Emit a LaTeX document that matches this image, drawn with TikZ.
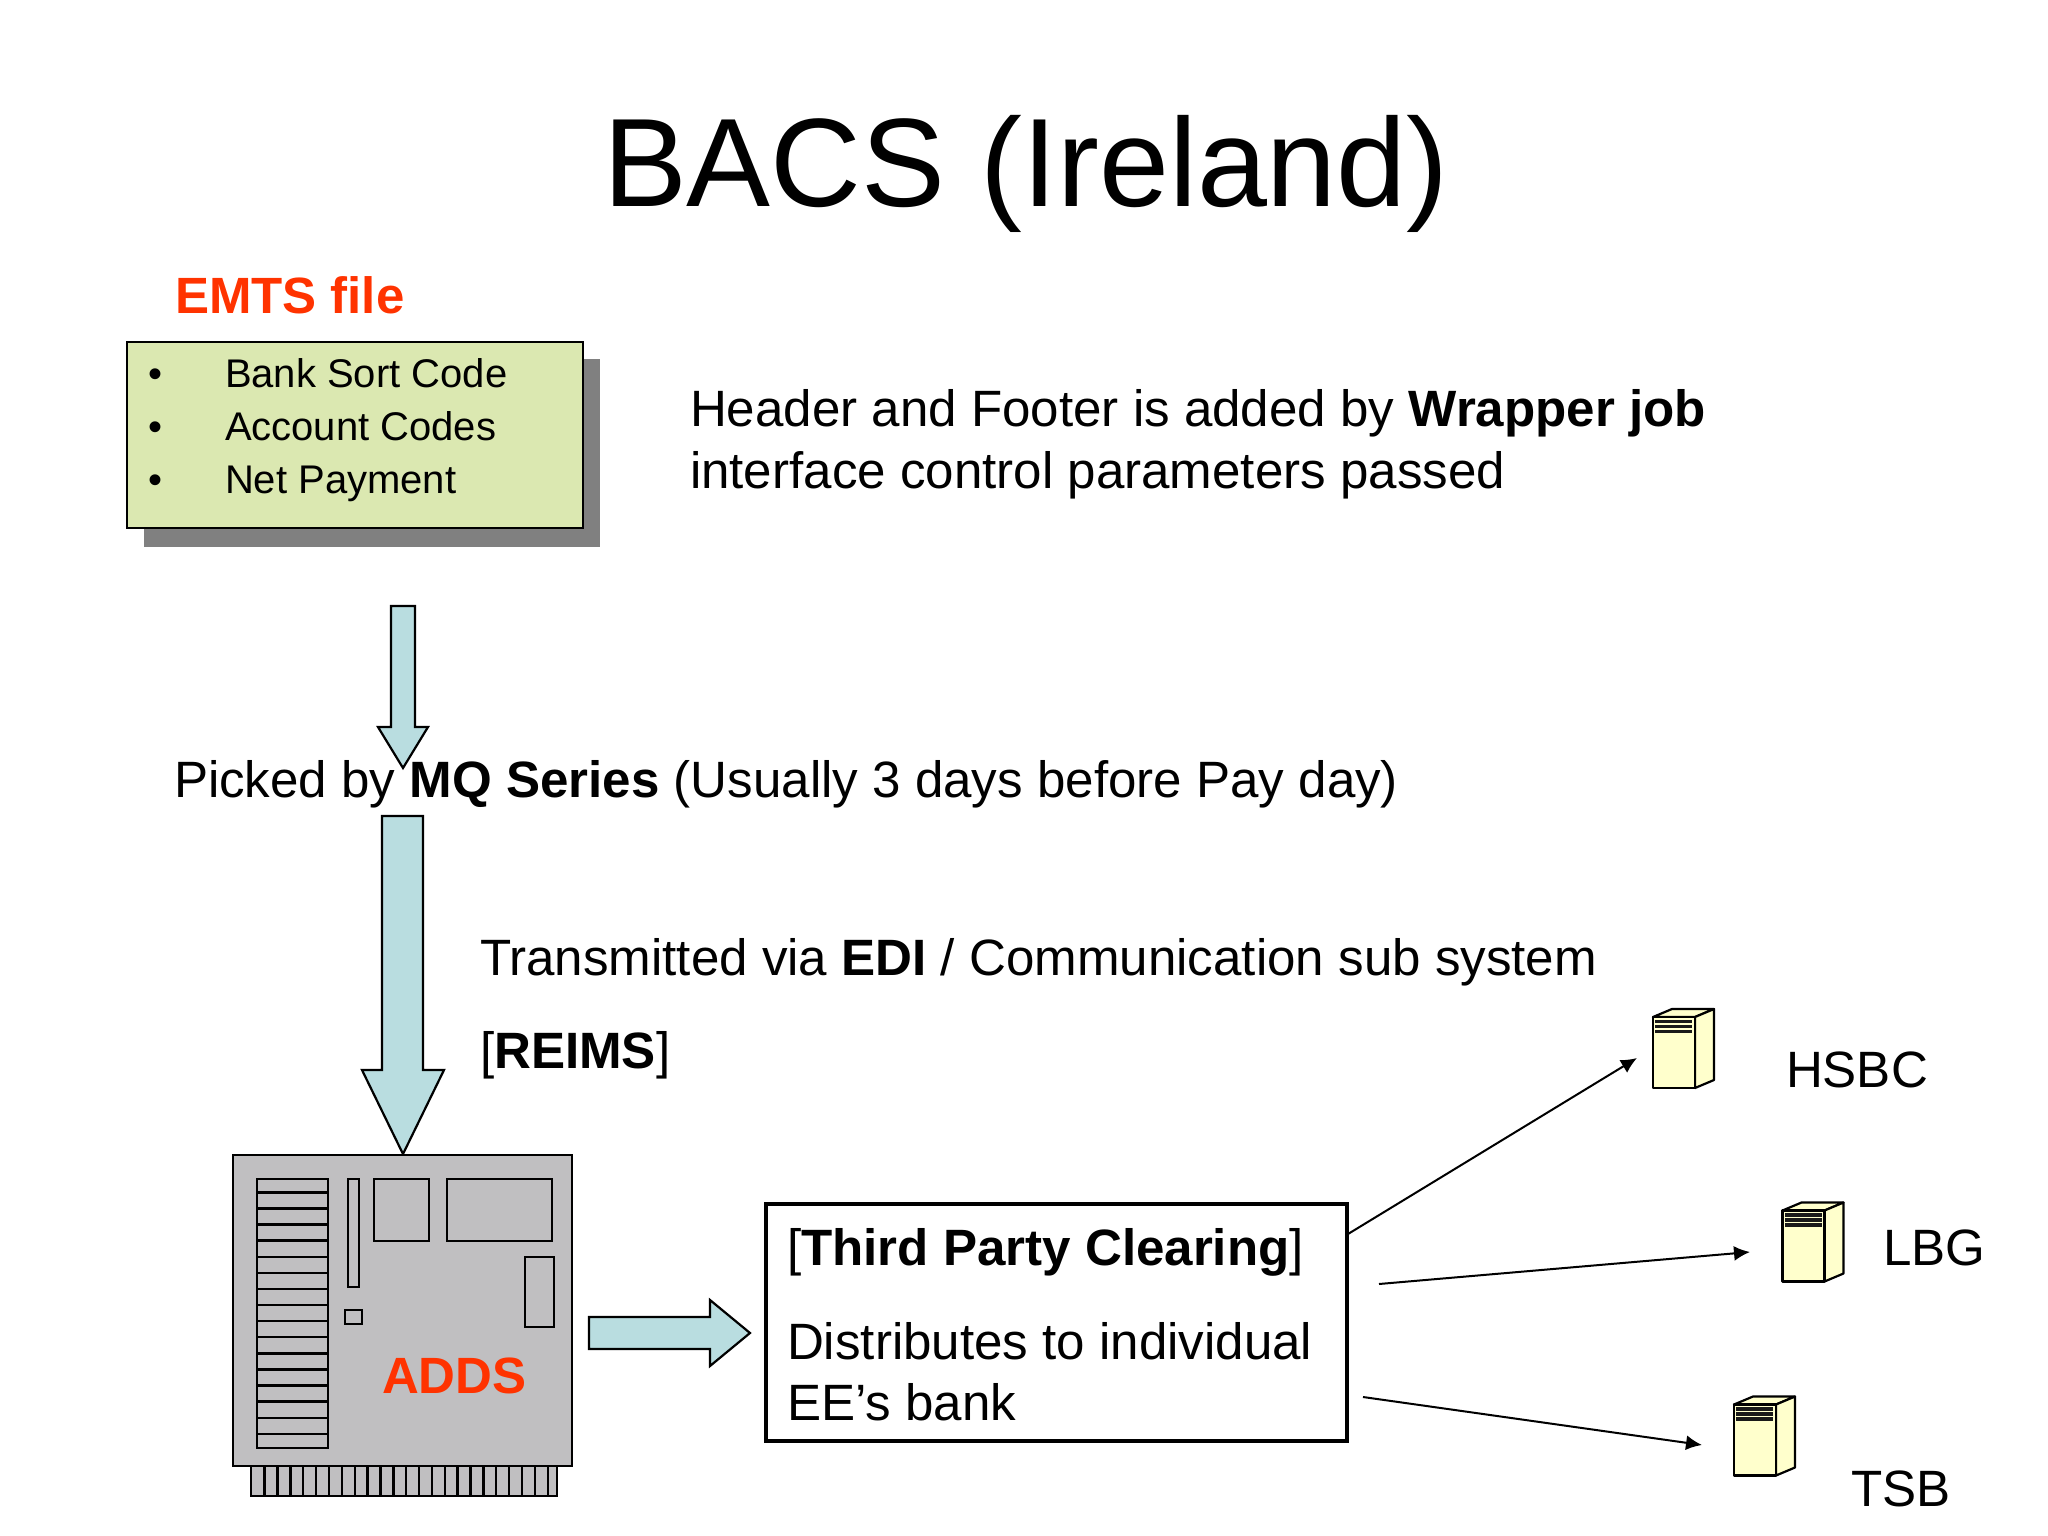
\documentclass[tikz,border=0pt]{standalone}
\usepackage{fontspec}
\setmainfont{Liberation Sans}
\definecolor{emts}{HTML}{FF3300}
\definecolor{notegreen}{HTML}{DBE8B1}
\definecolor{shadowgrey}{HTML}{808080}
\definecolor{arrowblue}{HTML}{B9DDE0}
\definecolor{boardgrey}{HTML}{C0BFC1}
\definecolor{serveryellow}{HTML}{FFFFCC}
\newcommand{\sz}[1]{\fontsize{#1}{#1}\selectfont}
\tikzset{
  txt/.style={anchor=base west,inner sep=0pt,outer sep=0pt,text=black,font=\sz{51.1}},
  listtxt/.style={txt,font=\sz{40}},
  redtxt/.style={txt,text=emts,font=\sz{51}\bfseries},
  block/.style={draw=black,line width=2.2pt,fill=arrowblue,line join=miter},
  part/.style={draw=black,line width=2.4pt},
  conn/.style={draw=black,line width=2pt,-{Latex[length=16pt,width=15pt]},shorten >=0pt},
  srv/.style={draw=black,line width=2.2pt,fill=serveryellow,line join=round},
  srvslot/.style={fill=black!90,draw=none},
  boxnode/.style={anchor=north west,inner sep=0pt,outer sep=0pt}
}
\usetikzlibrary{arrows.meta}
\newcommand{\serverbox}[2]{%
  \begin{scope}[shift={(#1,#2)}]
    \draw[srv] (0,-71) -- (19,-79) -- (61,-79) -- (42,-71) -- cycle;
    \draw[srv] (42,-71) -- (61,-79) -- (61,-8) -- (42,0) -- cycle;
    \draw[srv] (0,0) rectangle (42,-71);
    \fill[srvslot] (2,-68.5) rectangle (39,-65);
    \fill[srvslot] (2,-63.5) rectangle (39,-60);
    \fill[srvslot] (2,-58.5) rectangle (39,-55);
  \end{scope}}
\begin{document}
\begin{tikzpicture}[x=1pt,y=-1pt]
\useasboundingbox (0,0) rectangle (2048,1536);
\fill[white] (0,0) rectangle (2048,1536);

% title
\node[txt,font=\sz{125.8}] (title) at (603,206) {BACS (Ireland)};

% EMTS note
\node[redtxt] (emtslabel) at (175,313) {EMTS file};
\fill[shadowgrey] (144,359) rectangle (600,547);
\node[boxnode,draw=black,line width=2pt,fill=notegreen,minimum width=456pt,minimum height=186pt] (emtsbox) at (127,342) {};
\node[listtxt] (b1) at (148,387) {•};
\node[listtxt] (b2) at (148,440) {•};
\node[listtxt] (b3) at (148,493) {•};
\node[listtxt] (l1) at (225,387.5) {Bank Sort Code};
\node[listtxt] (l2) at (225,440) {Account Codes};
\node[listtxt] (l3) at (225,493) {Net Payment};

% wrapper text
\node[txt] (wrap1) at (690,426.5) {Header and Footer is added by \textbf{Wrapper job}};
\node[txt] (wrap2) at (690,488) {interface control parameters passed};

% block arrows
\draw[block] (391,606) -- (415,606) -- (415,727) -- (428,727) -- (403,768) -- (378,727) -- (391,727) -- cycle;
\node[txt] (picked) at (174,797.5) {Picked by \textbf{MQ Series} (Usually 3 days before Pay day)};
\draw[block] (382,816) -- (423,816) -- (423,1070) -- (444,1070) -- (403,1154) -- (362,1070) -- (382,1070) -- cycle;

\node[txt] (edi) at (480,975) {Transmitted via \textbf{EDI} / Communication sub system};
\node[txt] (reims) at (480,1068) {[\textbf{REIMS}]};

% ADDS board
\draw[part,fill=boardgrey] (251,1466) rectangle (557,1496);
\foreach \k in {0,...,22} {
  \draw[part] ({200+(194+38.6*\k)/3},1466) -- ({200+(194+38.6*\k)/3},1496);
}
\draw[part,fill=boardgrey] (233,1155) rectangle (572,1466);
\draw[part] (257,1179) rectangle (328,1448);
\foreach \k in {0,...,15} {
  \draw[part] (257,{1130+(187+48.3*\k)/3}) -- (328,{1130+(187+48.3*\k)/3});
}
\draw[part] (348,1179) rectangle (359,1287);
\draw[part] (374,1179) rectangle (429,1241);
\draw[part] (447,1179) rectangle (552,1241);
\draw[part] (525,1257) rectangle (554,1327);
\draw[part] (345,1310) rectangle (362,1324);
\node[redtxt] (adds) at (382,1393.5) {ADDS};

\draw[block] (589,1317) -- (710,1317) -- (710,1300) -- (750,1333) -- (710,1366) -- (710,1349) -- (589,1349) -- cycle;

% third party clearing
\node[boxnode,draw=black,line width=4pt,minimum width=581pt,minimum height=237pt] (clearing) at (766,1204) {};
\node[txt] (tp) at (787,1265.5) {[\textbf{Third Party Clearing}]};
\node[txt] (dist) at (787,1359) {Distributes to individual};
\node[txt] (ee) at (787,1420) {EE’s bank};

% servers
\serverbox{1653}{1088}
\serverbox{1782.5}{1281.5}
\serverbox{1734}{1475.5}
\node[txt] (hsbc) at (1786,1087) {HSBC};
\node[txt] (lbg) at (1883,1265) {LBG};
\node[txt] (tsb) at (1851,1506.5) {TSB};

% connectors
\coordinate (a1) at (1348,1234);
\coordinate (a2) at (1637,1058);
\coordinate (b1s) at (1379,1284);
\coordinate (b2e) at (1750,1252);
\coordinate (c1) at (1363,1397);
\coordinate (c2) at (1702,1445);
\draw[conn] (a1) -- (a2);
\draw[conn] (b1s) -- (b2e);
\draw[conn] (c1) -- (c2);
\end{tikzpicture}
\end{document}
